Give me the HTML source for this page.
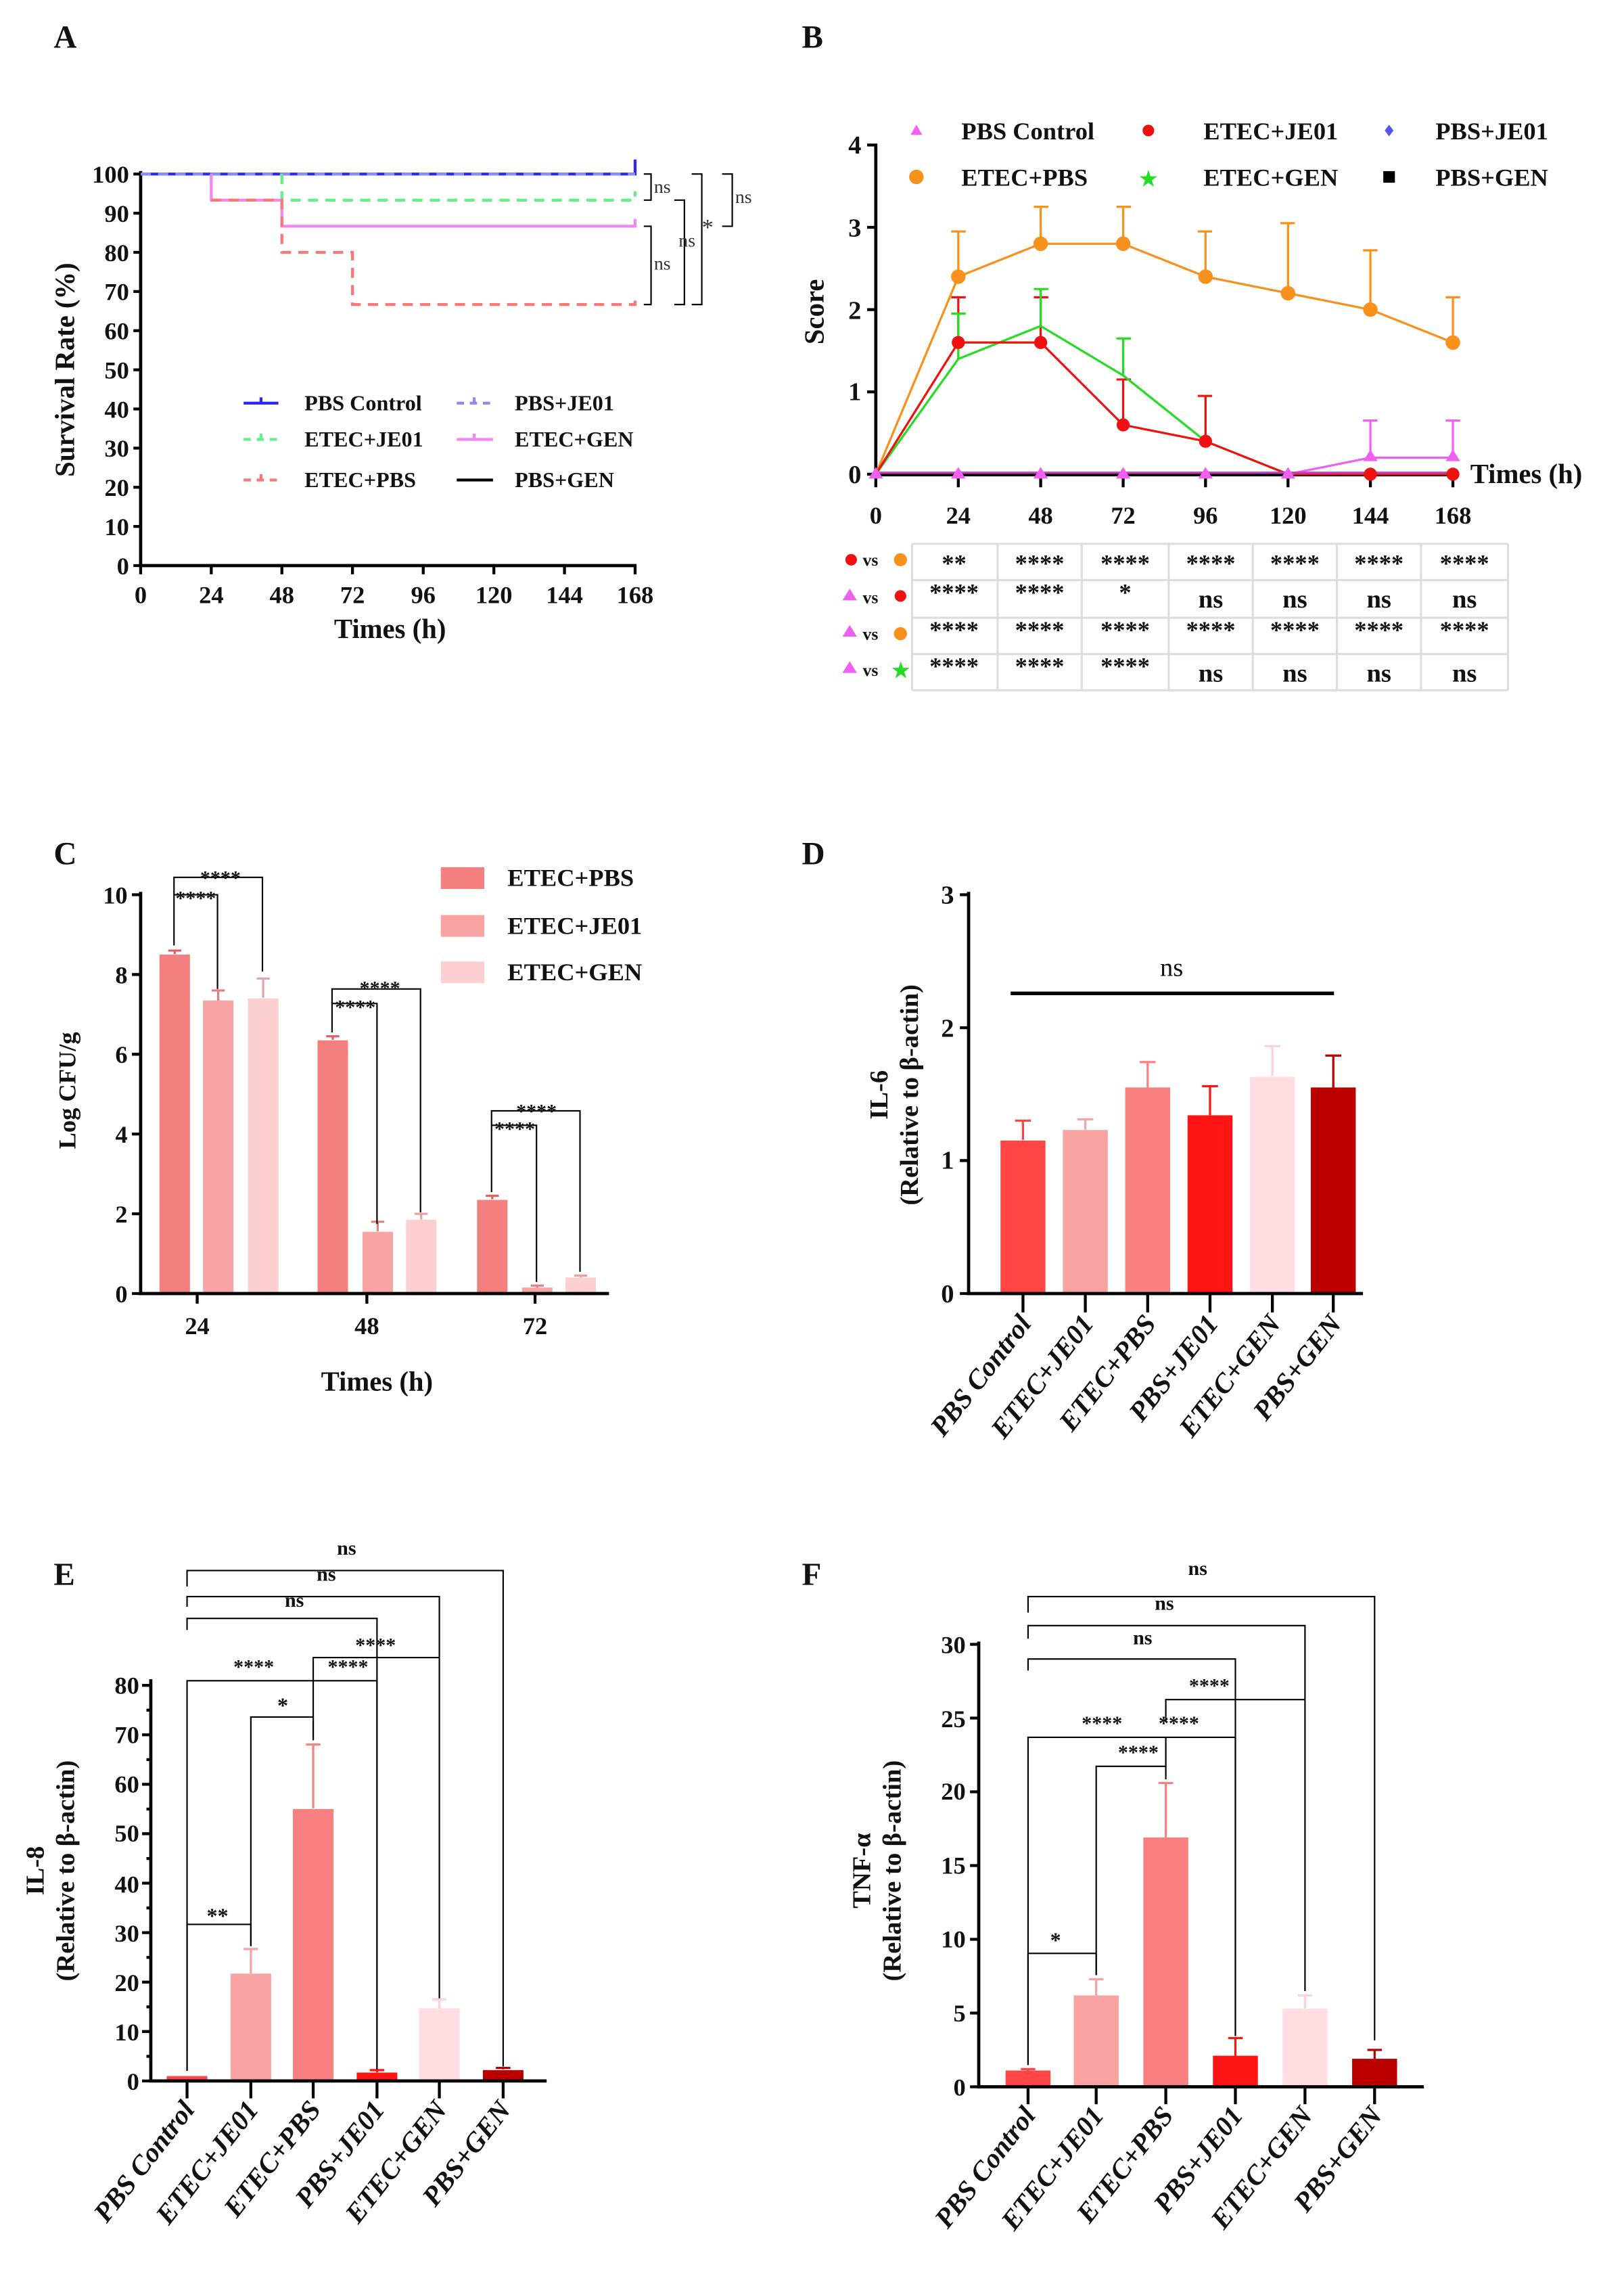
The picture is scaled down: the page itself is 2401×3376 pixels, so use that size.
<!DOCTYPE html>
<html><head><meta charset="utf-8"><style>
html,body{margin:0;padding:0;background:#fff}
svg{display:block}
text{font-family:"Liberation Serif",serif;font-weight:bold;fill:#111}
.t{font-size:17px}
.s{font-size:13px;font-weight:normal;fill:#333}
.st{font-size:14px;font-weight:normal;fill:#333}
.L{font-size:22px}
.ax{stroke:#000;stroke-width:2.2;fill:none}
.br{stroke:#000;stroke-width:1;fill:none}
.rl{font-size:19px;font-style:italic}
.yl{font-size:18px}
</style></head><body>
<svg width="2401" height="3376" viewBox="0 0 1120 1575" preserveAspectRatio="none" xmlns="http://www.w3.org/2000/svg">
<text class="L" x="37" y="33">A</text>
<text class="L" x="553" y="33">B</text>
<text class="L" x="37" y="596">C</text>
<text class="L" x="553" y="596">D</text>
<text class="L" x="37" y="1093">E</text>
<text class="L" x="553" y="1093">F</text>

<!-- ===== Panel A ===== -->
<g>
<path class="ax" d="M97 118 V390 H439"/>
<g stroke="#000" stroke-width="2">
<path d="M92 120H97M92 147H97M92 174H97M92 201H97M92 228H97M92 255H97M92 282H97M92 309H97M92 336H97M92 363H97M92 390H97"/>
<path d="M97 390V396M145.7 390V396M194.4 390V396M243.1 390V396M291.9 390V396M340.6 390V396M389.3 390V396M438 390V396"/>
</g>
<g class="t" text-anchor="end">
<text x="89" y="126">100</text><text x="89" y="153">90</text><text x="89" y="180">80</text><text x="89" y="207">70</text><text x="89" y="234">60</text><text x="89" y="261">50</text><text x="89" y="288">40</text><text x="89" y="315">30</text><text x="89" y="342">20</text><text x="89" y="369">10</text><text x="89" y="396">0</text>
</g>
<g class="t" text-anchor="middle">
<text x="97" y="416">0</text><text x="145.7" y="416">24</text><text x="194.4" y="416">48</text><text x="243.1" y="416">72</text><text x="291.9" y="416">96</text><text x="340.6" y="416">120</text><text x="389.3" y="416">144</text><text x="438" y="416">168</text>
</g>
<text x="269" y="440" text-anchor="middle" style="font-size:19px">Times (h)</text>
<text transform="translate(51,255) rotate(-90)" text-anchor="middle" style="font-size:19px">Survival Rate (%)</text>
<path d="M97 120H438V110" stroke="#2a2aee" stroke-width="2" fill="none"/>
<path d="M97 120H438" stroke="#8c8cf5" stroke-width="2" stroke-dasharray="7,5" fill="none"/>
<path d="M194.4 120V138H438V132" stroke="#66ee88" stroke-width="2" stroke-dasharray="7,5" fill="none"/>
<path d="M145.7 120V138H194.4V156H438V151" stroke="#f088f0" stroke-width="2" fill="none"/>
<path d="M145.7 138H194.4V174H243.1V210H438V204" stroke="#f87878" stroke-width="2" stroke-dasharray="7,5" fill="none"/>
<path class="br" d="M444 120H449V138H444"/><text class="s" x="451" y="133">ns</text>
<path class="br" d="M444 156H449V210H444"/><text class="s" x="451" y="186">ns</text>
<path class="br" d="M465 138H472V210H465"/><text class="s" x="468" y="170">ns</text>
<path class="br" d="M477 120H484V210H477"/><text class="s" x="484" y="162" style="font-size:16px">*</text>
<path class="br" d="M498 120H505V156H498"/><text class="s" x="507" y="140">ns</text>
<g style="font-weight:bold;font-size:15px">
<path d="M168 278H192M180 278V274" stroke="#2a2aee" stroke-width="2"/><text x="210" y="283">PBS Control</text>
<path d="M315 278H340M327 278V274" stroke="#8c8cf5" stroke-width="2" stroke-dasharray="5,4"/><text x="355" y="283">PBS+JE01</text>
<path d="M168 303H192M180 303V299" stroke="#66ee88" stroke-width="2" stroke-dasharray="5,4"/><text x="210" y="308">ETEC+JE01</text>
<path d="M315 303H340M327 303V299" stroke="#f088f0" stroke-width="2"/><text x="355" y="308">ETEC+GEN</text>
<path d="M168 331H192M180 331V327" stroke="#f87878" stroke-width="2" stroke-dasharray="5,4"/><text x="210" y="336">ETEC+PBS</text>
<path d="M315 331H340" stroke="#000" stroke-width="2"/><text x="355" y="336">PBS+GEN</text>
</g>
</g>

<!-- ===== Panel B ===== -->
<g>
<path class="ax" d="M604 99V327"/>
<path d="M604 327H1002" stroke="#000" stroke-width="3"/>
<g stroke="#000" stroke-width="2">
<path d="M598 100H604M598 156.75H604M598 213.5H604M598 270.25H604M598 327H604"/>
<path d="M604 327V336M660.9 327V336M717.7 327V336M774.6 327V336M831.4 327V336M888.3 327V336M945.1 327V336M1002 327V336"/>
</g>
<g class="t" text-anchor="end" style="font-size:18px">
<text x="594" y="106">4</text><text x="594" y="163">3</text><text x="594" y="220">2</text><text x="594" y="276">1</text><text x="594" y="333">0</text>
</g>
<g class="t" text-anchor="middle" style="font-size:17px">
<text x="604" y="361">0</text><text x="660.9" y="361">24</text><text x="717.7" y="361">48</text><text x="774.6" y="361">72</text><text x="831.4" y="361">96</text><text x="888.3" y="361">120</text><text x="945.1" y="361">144</text><text x="1002" y="361">168</text>
</g>
<text x="1014" y="333" style="font-size:19px">Times (h)</text>
<text transform="translate(568,215) rotate(-90)" text-anchor="middle" style="font-size:19px">Score</text>
<g style="font-size:17px">
<path d="M632 86l-4 7h8z" fill="#f060f0"/><text x="663" y="96">PBS Control</text>
<circle cx="792" cy="90" r="4" fill="#f01010"/><text x="830" y="96">ETEC+JE01</text>
<path d="M958 86l3 4-3 4-3-4z" fill="#5555ee"/><text x="990" y="96">PBS+JE01</text>
<circle cx="632" cy="122" r="5" fill="#f8901c"/><text x="663" y="128">ETEC+PBS</text>
<text x="792" y="128" text-anchor="middle" style="fill:#22dd22;font-size:14px">★</text><text x="830" y="128">ETEC+GEN</text>
<rect x="954" y="118" width="8" height="8" fill="#000"/><text x="990" y="128">PBS+GEN</text>
</g>
<g stroke="#f8901c" stroke-width="1.5" fill="none">
<path d="M660.9 190.8V159.6M656 159.6h10M717.7 168.1V142.6M713 142.6h10M774.6 168.1V142.6M770 142.6h10M831.4 190.8V159.6M826 159.6h10M888.3 202.2V153.9M883 153.9h10M945.1 213.5V172.6M940 172.6h10M1002 236.2V205M997 205h10"/>
</g>
<g stroke="#f01010" stroke-width="1.5" fill="none">
<path d="M660.9 236.2V205M656 205h10M717.7 236.2V205M713 205h10M774.6 293V261.7M770 261.7h10M831.4 304.3V273M826 273h10"/>
</g>
<g stroke="#22dd22" stroke-width="1.5" fill="none">
<path d="M660.9 247.5V216.3M656 216.3h10M717.7 224.8V199.3M713 199.3h10M774.6 258.9V233.4M770 233.4h10"/>
</g>
<g stroke="#f060f0" stroke-width="1.5" fill="none">
<path d="M945.1 315.6V290M940 290h10M1002 315.6V290M997 290h10"/>
</g>
<polyline points="604,327 660.9,190.8 717.7,168.1 774.6,168.1 831.4,190.8 888.3,202.2 945.1,213.5 1002,236.2" stroke="#f8901c" stroke-width="1.5" fill="none"/>
<polyline points="604,327 660.9,247.5 717.7,224.8 774.6,258.9 831.4,304.3 888.3,327" stroke="#22dd22" stroke-width="1.5" fill="none"/>
<polyline points="604,327 660.9,236.2 717.7,236.2 774.6,293 831.4,304.3 888.3,327 1002,327" stroke="#f01010" stroke-width="1.5" fill="none"/>
<polyline points="888.3,327 945.1,315.6 1002,315.6" stroke="#f060f0" stroke-width="1.5" fill="none"/>
<path d="M604 326H1002" stroke="#c040c0" stroke-width="1.5"/>
<g fill="#f8901c">
<circle cx="660.9" cy="190.8" r="5"/><circle cx="717.7" cy="168.1" r="5"/><circle cx="774.6" cy="168.1" r="5"/><circle cx="831.4" cy="190.8" r="5"/><circle cx="888.3" cy="202.2" r="5"/><circle cx="945.1" cy="213.5" r="5"/><circle cx="1002" cy="236.2" r="5"/>
</g>
<g fill="#f01010">
<circle cx="660.9" cy="236.2" r="4.5"/><circle cx="717.7" cy="236.2" r="4.5"/><circle cx="774.6" cy="293" r="4.5"/><circle cx="831.4" cy="304.3" r="4.5"/><circle cx="945.1" cy="327" r="4.5"/><circle cx="1002" cy="327" r="4.5"/>
</g>
<g fill="#f060f0">
<path d="M945.1 310l-5 8h10zM1002 310l-5 8h10zM604 322l-5 8h10zM660.9 322l-5 8h10zM717.7 322l-5 8h10zM774.6 322l-5 8h10zM831.4 322l-5 8h10zM888.3 322l-5 8h10z"/>
</g>
<g stroke="#ddd" stroke-width="1.5" fill="none">
<path d="M629 375H1040M629 400H1040M629 426H1040M629 451H1040M629 476H1040"/>
<path d="M629 375V476M688 375V476M746 375V476M806 375V476M864 375V476M922 375V476M980 375V476M1040 375V476"/>
</g>
<g style="font-size:12px;font-family:'Liberation Sans',sans-serif;font-weight:normal">
<circle cx="587" cy="386" r="4" fill="#f01010"/><text x="595" y="390">vs</text><circle cx="621" cy="386" r="4.5" fill="#f8901c"/>
<path d="M586 406l-5 8h10z" fill="#f060f0"/><text x="595" y="416">vs</text><circle cx="621" cy="411" r="4" fill="#f01010"/>
<path d="M586 431l-5 8h10z" fill="#f060f0"/><text x="595" y="441">vs</text><circle cx="621" cy="437" r="4.5" fill="#f8901c"/>
<path d="M586 456l-5 8h10z" fill="#f060f0"/><text x="595" y="466">vs</text><text x="615" y="467" style="fill:#22dd22;font-size:14px">★</text>
</g>
<g style="font-size:17px" text-anchor="middle">
<text x="658" y="394">**</text><text x="717" y="394">****</text><text x="776" y="394">****</text><text x="835" y="394">****</text><text x="893" y="394">****</text><text x="951" y="394">****</text><text x="1010" y="394">****</text>
<text x="658" y="414">****</text><text x="717" y="414">****</text><text x="776" y="414">*</text><text x="835" y="419" style="font-size:18px">ns</text><text x="893" y="419" style="font-size:18px">ns</text><text x="951" y="419" style="font-size:18px">ns</text><text x="1010" y="419" style="font-size:18px">ns</text>
<text x="658" y="440">****</text><text x="717" y="440">****</text><text x="776" y="440">****</text><text x="835" y="440">****</text><text x="893" y="440">****</text><text x="951" y="440">****</text><text x="1010" y="440">****</text>
<text x="658" y="465">****</text><text x="717" y="465">****</text><text x="776" y="465">****</text><text x="835" y="470" style="font-size:18px">ns</text><text x="893" y="470" style="font-size:18px">ns</text><text x="951" y="470" style="font-size:18px">ns</text><text x="1010" y="470" style="font-size:18px">ns</text>
</g>
</g>

<!-- ===== Panel C ===== -->
<g>
<g fill="#f47f7f"><rect x="110" y="658.25" width="21" height="233.75"/><rect x="219" y="717.4" width="21" height="174.6"/><rect x="329" y="827.4" width="21" height="64.6"/></g>
<g fill="#f9a4a4"><rect x="140" y="689.9" width="21" height="202.1"/><rect x="250" y="849.4" width="21" height="42.6"/><rect x="360" y="887.9" width="21" height="4.1"/></g>
<g fill="#fcd0d0"><rect x="171" y="688.5" width="21" height="203.5"/><rect x="280" y="841.1" width="21" height="50.9"/><rect x="390" y="881" width="21" height="11"/></g>
<g stroke-width="1.5" fill="none">
<path d="M120.5 658V655.5M116 655.5h9M229.5 717V714.6M225 714.6h9M339.5 827V824.6M335 824.6h9" stroke="#e06060"/>
<path d="M150.5 690V683M146 683h9M260.5 849V842.5M256 842.5h9M370.5 888V886.5M366 886.5h9" stroke="#e08080"/>
<path d="M181.5 688V674.8M177 674.8h9M290.5 841V837M286 837h9M400.5 881V879.6M396 879.6h9" stroke="#e8a0a0"/>
</g>
<path class="ax" d="M97 615V892H420"/>
<g stroke="#000" stroke-width="2">
<path d="M91 617H97M91 672H97M91 727H97M91 782H97M91 837H97M91 892H97M136 892V899M253 892V899M369 892V899"/>
</g>
<g class="t" text-anchor="end">
<text x="88" y="623">10</text><text x="88" y="678">8</text><text x="88" y="733">6</text><text x="88" y="788">4</text><text x="88" y="843">2</text><text x="88" y="898">0</text>
</g>
<g class="t" text-anchor="middle"><text x="136" y="920">24</text><text x="253" y="920">48</text><text x="369" y="920">72</text></g>
<text x="260" y="959" text-anchor="middle" style="font-size:19px">Times (h)</text>
<text transform="translate(52,752) rotate(-90)" text-anchor="middle" style="font-size:17px">Log CFU/g</text>
<g class="br"><path d="M120 652V617H150V682"/><path d="M120 617V605H181V670"/>
<path d="M229 712V692H260V844"/><path d="M229 692V682H290V836"/>
<path d="M339 822V776H370V884"/><path d="M339 776V766H400V877"/></g>
<g class="st" text-anchor="middle" style="font-size:14px"><text x="135" y="624">****</text><text x="152" y="610">****</text><text x="245" y="699">****</text><text x="262" y="686">****</text><text x="355" y="783">****</text><text x="370" y="771">****</text></g>
<g style="font-size:17px">
<rect x="304" y="598" width="30" height="15" fill="#f47f7f"/><text x="350" y="611">ETEC+PBS</text>
<rect x="304" y="631" width="30" height="15" fill="#f9a4a4"/><text x="350" y="644">ETEC+JE01</text>
<rect x="304" y="663" width="30" height="15" fill="#fcd0d0"/><text x="350" y="676">ETEC+GEN</text>
</g>
</g>

<!-- ===== Panel D ===== -->
<g>
<rect x="690" y="786.5" width="31" height="105.5" fill="#ff4545"/>
<rect x="733" y="779.2" width="31" height="112.8" fill="#f9a2a2"/>
<rect x="776" y="749.9" width="31" height="142.1" fill="#f88080"/>
<rect x="819" y="769.1" width="31" height="122.9" fill="#ff1414"/>
<rect x="862" y="742.5" width="31" height="149.5" fill="#ffdde0"/>
<rect x="904" y="749.9" width="31" height="142.1" fill="#bb0000"/>
<g stroke-width="1.5" fill="none">
<path d="M705.5 786V772.8M700 772.8h11" stroke="#ff4545"/>
<path d="M748.5 779V771.9M743 771.9h11" stroke="#f9a2a2"/>
<path d="M791.5 750V732.4M786 732.4h11" stroke="#f88080"/>
<path d="M834.5 769V749M829 749h11" stroke="#ff1414"/>
<path d="M877.5 742V721.4M872 721.4h11" stroke="#ffd0d5"/>
<path d="M919.5 750V727.9M914 727.9h11" stroke="#bb0000"/>
</g>
<path class="ax" d="M668 615V892H940"/>
<g stroke="#000" stroke-width="2"><path d="M662 617H668M662 708.7H668M662 800.3H668M662 892H668M705.5 892V905M748.5 892V905M791.5 892V905M834.5 892V905M877.5 892V905M919.5 892V905"/></g>
<g class="t" text-anchor="end" style="font-size:18px"><text x="658" y="623">3</text><text x="658" y="715">2</text><text x="658" y="806">1</text><text x="658" y="898">0</text></g>
<path d="M697 685H920" stroke="#000" stroke-width="2.5"/>
<text x="808" y="673" text-anchor="middle" style="font-size:18px;font-weight:normal">ns</text>
<text class="yl" transform="translate(612,755) rotate(-90)" text-anchor="middle">IL-6</text>
<text class="yl" transform="translate(633,755) rotate(-90)" text-anchor="middle">(Relative to β-actin)</text>
<g class="rl" text-anchor="end">
<text transform="translate(712,913) rotate(-52)">PBS Control</text>
<text transform="translate(755,913) rotate(-52)">ETEC+JE01</text>
<text transform="translate(798,913) rotate(-52)">ETEC+PBS</text>
<text transform="translate(841,913) rotate(-52)">PBS+JE01</text>
<text transform="translate(884,913) rotate(-52)">ETEC+GEN</text>
<text transform="translate(926,913) rotate(-52)">PBS+GEN</text>
</g>
</g>

<!-- ===== Panel E ===== -->
<g>
<rect x="115" y="1431.6" width="28" height="3.4" fill="#ff4545"/>
<rect x="159" y="1361" width="28" height="74" fill="#f9a2a2"/>
<rect x="202" y="1247.5" width="28" height="187.5" fill="#f88080"/>
<rect x="246" y="1429.2" width="28" height="5.8" fill="#ff1414"/>
<rect x="289" y="1384.9" width="28" height="50.1" fill="#ffdde0"/>
<rect x="333" y="1427.5" width="28" height="7.5" fill="#bb0000"/>
<g stroke-width="1.5" fill="none">
<path d="M173 1361V1344M168 1344h10" stroke="#f9a2a2"/>
<path d="M216 1247V1203M211 1203h10" stroke="#f88080"/>
<path d="M260 1429V1427.5M255 1427.5h10" stroke="#ff1414"/>
<path d="M303 1385V1378.7M298 1378.7h10" stroke="#ffd0d5"/>
<path d="M347 1427V1426M342 1426h10" stroke="#bb0000"/>
</g>
<path class="ax" d="M104 1158V1435H377"/>
<g stroke="#000" stroke-width="2">
<path d="M98 1435H104M98 1400.9H104M98 1366.8H104M98 1332.7H104M98 1298.6H104M98 1264.5H104M98 1230.4H104M98 1196.3H104M98 1162.2H104"/>
<path d="M101 1418H104M101 1383.9H104M101 1349.8H104M101 1315.7H104M101 1281.6H104M101 1247.5H104M101 1213.4H104M101 1179.3H104"/>
<path d="M129 1435V1447M173 1435V1447M216 1435V1447M260 1435V1447M303 1435V1447M347 1435V1447"/>
</g>
<g class="t" text-anchor="end">
<text x="96" y="1441">0</text><text x="96" y="1407">10</text><text x="96" y="1373">20</text><text x="96" y="1339">30</text><text x="96" y="1305">40</text><text x="96" y="1270">50</text><text x="96" y="1236">60</text><text x="96" y="1202">70</text><text x="96" y="1168">80</text>
</g>
<text class="yl" transform="translate(30,1290) rotate(-90)" text-anchor="middle">IL-8</text>
<text class="yl" transform="translate(51,1290) rotate(-90)" text-anchor="middle">(Relative to β-actin)</text>
<g class="br">
<path d="M129 1094V1083H347V1425"/>
<path d="M129 1108V1101H303V1378"/>
<path d="M129 1124V1116H260V1427"/>
<path d="M216 1159V1143H303"/>
<path d="M129 1428V1159H260V1427"/>
<path d="M216 1200V1159"/>
<path d="M173 1342V1184H216V1200"/>
<path d="M129 1428V1327H173V1342"/>
</g>
<g class="st" text-anchor="middle">
<text x="239" y="1072">ns</text><text x="225" y="1090">ns</text><text x="203" y="1108">ns</text>
<text x="259" y="1139">****</text><text x="175" y="1154">****</text><text x="240" y="1154">****</text>
<text x="195" y="1181" style="font-weight:bold;font-size:15px">*</text><text x="150" y="1326" style="font-weight:bold;font-size:15px">**</text>
</g>
<g class="rl" text-anchor="end">
<text transform="translate(135,1455) rotate(-52)">PBS Control</text>
<text transform="translate(179,1455) rotate(-52)">ETEC+JE01</text>
<text transform="translate(222,1455) rotate(-52)">ETEC+PBS</text>
<text transform="translate(266,1455) rotate(-52)">PBS+JE01</text>
<text transform="translate(309,1455) rotate(-52)">ETEC+GEN</text>
<text transform="translate(353,1455) rotate(-52)">PBS+GEN</text>
</g>
</g>

<!-- ===== Panel F ===== -->
<g>
<rect x="693.5" y="1427.8" width="31" height="11.2" fill="#ff4545"/>
<rect x="740.5" y="1376" width="31" height="63" fill="#f9a2a2"/>
<rect x="788.5" y="1267.1" width="31" height="171.9" fill="#f88080"/>
<rect x="836.5" y="1417.6" width="31" height="21.4" fill="#ff1414"/>
<rect x="884.5" y="1385.1" width="31" height="53.9" fill="#ffdde0"/>
<rect x="932.5" y="1419.7" width="31" height="19.3" fill="#bb0000"/>
<g stroke-width="1.5" fill="none">
<path d="M709 1428V1426.8M704 1426.8h10" stroke="#ff4545"/>
<path d="M756 1376V1364.8M751 1364.8h10" stroke="#f9a2a2"/>
<path d="M804 1267V1229.5M799 1229.5h10" stroke="#f88080"/>
<path d="M852 1418V1405.4M847 1405.4h10" stroke="#ff1414"/>
<path d="M900 1385V1376M895 1376h10" stroke="#ffd0d5"/>
<path d="M948 1420V1413.6M943 1413.6h10" stroke="#bb0000"/>
</g>
<path class="ax" d="M675 1132V1439H982"/>
<g stroke="#000" stroke-width="2">
<path d="M669 1439H675M669 1388.15H675M669 1337.3H675M669 1286.45H675M669 1235.6H675M669 1184.75H675M669 1133.9H675"/>
<path d="M709 1439V1451M756 1439V1451M804 1439V1451M852 1439V1451M900 1439V1451M948 1439V1451"/>
</g>
<g class="t" text-anchor="end">
<text x="666" y="1445">0</text><text x="666" y="1394">5</text><text x="666" y="1343">10</text><text x="666" y="1292">15</text><text x="666" y="1241">20</text><text x="666" y="1191">25</text><text x="666" y="1140">30</text>
</g>
<text class="yl" transform="translate(600,1290) rotate(-90)" text-anchor="middle">TNF-α</text>
<text class="yl" transform="translate(621,1290) rotate(-90)" text-anchor="middle">(Relative to β-actin)</text>
<g class="br">
<path d="M709 1112V1101H948V1407"/>
<path d="M709 1130V1121H900V1373"/>
<path d="M709 1152V1144H852V1404"/>
<path d="M804 1187V1172H900"/>
<path d="M709 1424V1198H852V1404"/>
<path d="M804 1218V1198"/>
<path d="M756 1362V1218H804V1227"/>
<path d="M709 1424V1347H756V1362"/>
</g>
<g class="st" text-anchor="middle">
<text x="826" y="1086">ns</text><text x="803" y="1110">ns</text><text x="788" y="1134">ns</text>
<text x="834" y="1167">****</text><text x="760" y="1193">****</text><text x="813" y="1193">****</text><text x="785" y="1213">****</text>
<text x="728" y="1343" style="font-weight:bold;font-size:15px">*</text>
</g>
<g class="rl" text-anchor="end">
<text transform="translate(715,1459) rotate(-52)">PBS Control</text>
<text transform="translate(762,1459) rotate(-52)">ETEC+JE01</text>
<text transform="translate(810,1459) rotate(-52)">ETEC+PBS</text>
<text transform="translate(858,1459) rotate(-52)">PBS+JE01</text>
<text transform="translate(906,1459) rotate(-52)">ETEC+GEN</text>
<text transform="translate(954,1459) rotate(-52)">PBS+GEN</text>
</g>
</g>
</svg>
</body></html>
